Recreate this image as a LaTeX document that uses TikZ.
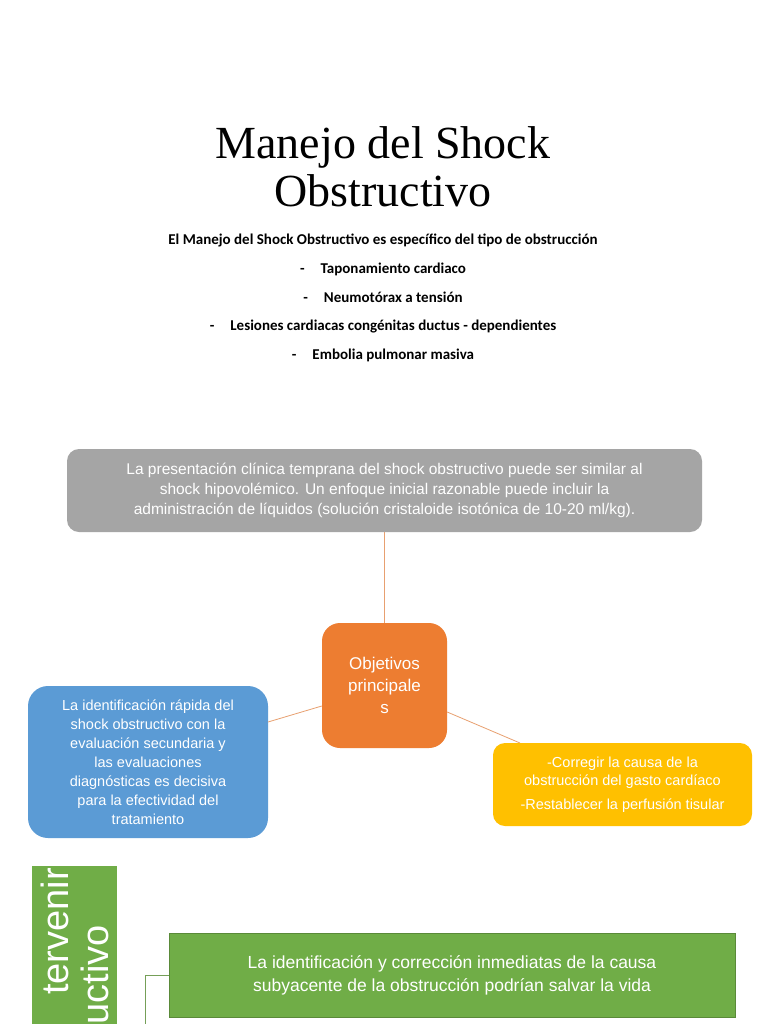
\documentclass[tikz,border=0pt]{standalone}
\usepackage{fontspec}
\setmainfont{Liberation Sans}
\newfontfamily\titlefont{Liberation Serif}
\newfontfamily\calfont{Carlito}
\definecolor{cgray}{HTML}{A5A5A5}
\definecolor{corange}{HTML}{ED7D31}
\definecolor{cblue}{HTML}{5B9BD5}
\definecolor{cyellow}{HTML}{FFC000}
\definecolor{cgreen}{HTML}{70AD47}
\definecolor{cline}{HTML}{E8A070}
\begin{document}
\begin{tikzpicture}[x=1pt,y=-1pt,
  box/.style={rounded corners=12pt,text=white,align=center,inner sep=0pt},
  link/.style={draw=cline,line width=0.8pt},
  sub/.style={font=\calfont\bfseries\fontsize{15}{18}\selectfont,anchor=center}]
\useasboundingbox (0,0) rectangle (768,1024);
\fill[white] (0,0) rectangle (768,1024);
\node[font=\titlefont\fontsize{46}{48}\selectfont,align=center] (title) at (383,167) {Manejo del Shock\\Obstructivo};
\node[sub] (s0) at (383,240) {El Manejo del Shock Obstructivo es específico del tipo de obstrucción};
\node[sub] (s1) at (383,269) {-\hspace{16pt}Taponamiento cardiaco};
\node[sub] (s2) at (383,297) {-\hspace{16pt}Neumotórax a tensión};
\node[sub] (s3) at (383,327) {-\hspace{16pt}Lesiones cardiacas congénitas ductus - dependientes};
\node[sub] (s4) at (383,355) {-\hspace{16pt}Embolia pulmonar masiva};
\node[box,fill=cgray,minimum width=635pt,minimum height=83pt,font=\fontsize{15.5}{20}\selectfont] (gray) at (384.5,490.5)
 {La presentación clínica temprana del shock obstructivo puede ser similar al\\shock hipovolémico. Un enfoque inicial razonable puede incluir la\\administración de líquidos (solución cristaloide isotónica de 10-20 ml/kg).};
\node[box,fill=corange,minimum width=125pt,minimum height=125pt,font=\fontsize{17}{22}\selectfont,rounded corners=18pt] (obj) at (384.5,685.5)
 {Objetivos\\principale\\s};
\node[box,fill=cblue,minimum width=240pt,minimum height=152pt,font=\fontsize{14.5}{19}\selectfont,rounded corners=20pt] (blue) at (148,762)
 {La identificación rápida del\\shock obstructivo con la\\evaluación secundaria y\\las evaluaciones\\diagnósticas es decisiva\\para la efectividad del\\tratamiento};
\node[box,fill=cyellow,minimum width=259pt,minimum height=83pt,font=\fontsize{14.5}{24}\selectfont] (yel) at (622.5,784.5)
 {-Corregir la causa de la\\[-6pt]obstrucción del gasto cardíaco\\-Restablecer la perfusión tisular};
\draw[link] (gray.south) -- (obj.north);
\draw[link] (obj.west |- 0,706) -- (268,722);
\draw[link] (obj.east |- 0,712) -- (520,743);
\fill[cgreen] (32,866) rectangle (117,1030);
\begin{scope}
\clip (32,866) rectangle (117,1024);
\node[rotate=90,anchor=east,text=white,font=\fontsize{38}{40}\selectfont,inner sep=0pt] (v1) at (55,868) {tervenir};
\node[rotate=90,anchor=east,text=white,font=\fontsize{38}{40}\selectfont,inner sep=0pt] (v2) at (95,925) {uctivo};
\end{scope}
\node[fill=cgreen,draw=cgreen!80!black,line width=0.4pt,minimum width=566pt,minimum height=84pt,text=white,align=center,inner sep=0pt,font=\fontsize{17.5}{23}\selectfont] (green) at (452,975)
 {La identificación y corrección inmediatas de la causa\\subyacente de la obstrucción podrían salvar la vida};
\coordinate (gend) at (145,1030);
\draw[draw=cgreen!70!gray,line width=0.8pt] (green.west) -- (145,975) -- (gend);
\end{tikzpicture}
\end{document}
